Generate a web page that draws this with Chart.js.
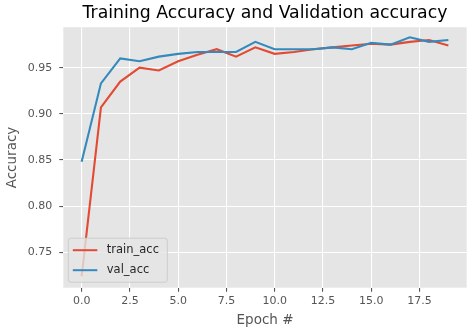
<!DOCTYPE html>
<html>
<head>
<meta charset="utf-8">
<script src="https://cdn.jsdelivr.net/npm/chart.js@4/dist/chart.umd.min.js"></script>
<style>
  html, body { margin: 0; padding: 0; background: #fff; }
  #wrap { width: 474px; height: 333px; }
</style>
</head>
<body>
<div id="wrap"><canvas id="myChart"></canvas></div>
<script>
// accuracy per epoch
const epochs = [0, 1, 2, 3, 4, 5, 6, 7, 8, 9, 10, 11, 12, 13, 14, 15, 16, 17, 18, 19]
const trainAcc = [0.724, 0.907, 0.935, 0.950, 0.947, 0.957, 0.964, 0.970, 0.962, 0.972,
                  0.965, 0.967, 0.970, 0.972, 0.974, 0.976, 0.975, 0.978, 0.980, 0.974]
const valAcc = [0.848, 0.933, 0.960, 0.957, 0.962, 0.965, 0.967, 0.967, 0.967, 0.978,
                0.970, 0.970, 0.970, 0.972, 0.970, 0.977, 0.975, 0.983, 0.978, 0.980]
const xTicks = [0, 2.5, 5, 7.5, 10, 12.5, 15, 17.5]
const yTicks = [0.75, 0.80, 0.85, 0.90, 0.95]

const FONT = "'DejaVu Sans', sans-serif"
const RED = '#E24A33'
const BLUE = '#348ABD'

// grey panel behind the grid
const panelBg = {
    id: 'panelBg',
    beforeDraw(chart) {
        const {ctx, chartArea: a} = chart
        ctx.save()
        ctx.fillStyle = '#E5E5E5'
        ctx.fillRect(a.left, a.top, a.right - a.left, a.bottom - a.top)
        ctx.restore()
    }
}

// legend box sitting inside the panel, lower left
const innerLegend = {
    id: 'innerLegend',
    afterDatasetsDraw(chart) {
        const {ctx, chartArea: a} = chart
        const x = a.left + 5, w = 99, h = 44
        const y = a.bottom - 5.5 - h
        ctx.save()
        ctx.beginPath()
        ctx.roundRect(x, y, w, h, 2.5)
        ctx.fillStyle = 'rgba(229,229,229,0.8)'
        ctx.fill()
        ctx.strokeStyle = '#CCCCCC'
        ctx.lineWidth = 1
        ctx.stroke()
        const rows = [{label: 'train_acc', color: RED}, {label: 'val_acc', color: BLUE}]
        ctx.font = '11.5px ' + FONT
        ctx.textBaseline = 'middle'
        rows.forEach((r, i) => {
            const ry = y + 12 + i * 20
            ctx.strokeStyle = r.color
            ctx.lineWidth = 2
            ctx.beginPath()
            ctx.moveTo(x + 4.5, ry)
            ctx.lineTo(x + 29, ry)
            ctx.stroke()
            ctx.fillStyle = '#262626'
            ctx.fillText(r.label, x + 38.5, ry)
        })
        ctx.restore()
    }
}

const chartdata = {
    datasets: [{
        label: 'train_acc',
        data: epochs.map((e, i) => ({x: e, y: trainAcc[i]})),
        borderColor: RED,
        borderWidth: 2.1,
        pointRadius: 0,
        tension: 0,
        order: 1
    }, {
        label: 'val_acc',
        data: epochs.map((e, i) => ({x: e, y: valAcc[i]})),
        borderColor: BLUE,
        borderWidth: 2.1,
        pointRadius: 0,
        tension: 0,
        order: 0
    }]
}

const config = {
    type: 'line',
    data: chartdata,
    options: {
        responsive: true,
        maintainAspectRatio: false,
        animation: false,
        layout: {padding: {left: 0, right: 7.3, top: 0, bottom: 0}},
        plugins: {
            legend: {display: false},
            tooltip: {enabled: false},
            title: {
                display: true,
                fullSize: false,
                text: 'Training Accuracy and Validation accuracy',
                color: '#000',
                font: {family: FONT, size: 17.3, weight: 'normal', lineHeight: 1.2},
                padding: {top: 3, bottom: 3.5}
            }
        },
        scales: {
            x: {
                type: 'linear',
                min: -0.95,
                max: 19.95,
                afterBuildTicks: s => { s.ticks = xTicks.map(v => ({value: v})) },
                afterFit: s => { s.height = 45.3 },
                border: {display: false},
                grid: {color: '#FFFFFF', lineWidth: 1.1, tickColor: '#555555', tickLength: 4},
                ticks: {
                    color: '#555555',
                    font: {family: FONT, size: 11},
                    padding: 3,
                    maxRotation: 0,
                    callback: v => v.toFixed(1)
                },
                title: {
                    display: true,
                    text: 'Epoch #',
                    color: '#555555',
                    font: {family: FONT, size: 13.5, lineHeight: 1.2},
                    padding: {top: 0, bottom: 4}
                }
            },
            y: {
                min: 0.7116,
                max: 0.9938,
                afterBuildTicks: s => { s.ticks = yTicks.map(v => ({value: v})) },
                afterFit: s => { s.width = 63.3 },
                border: {display: false},
                grid: {color: '#FFFFFF', lineWidth: 1.1, tickColor: '#555555', tickLength: 4},
                ticks: {
                    color: '#555555',
                    font: {family: FONT, size: 11},
                    padding: 7,
                    callback: v => v.toFixed(2)
                },
                title: {
                    display: true,
                    text: 'Accuracy',
                    color: '#555555',
                    font: {family: FONT, size: 13.5, lineHeight: 1.2},
                    padding: {top: 4.6, bottom: 0}
                }
            }
        }
    },
    plugins: [panelBg, innerLegend]
}

const myChart = new Chart(document.getElementById('myChart'), config)
</script>
</body>
</html>
